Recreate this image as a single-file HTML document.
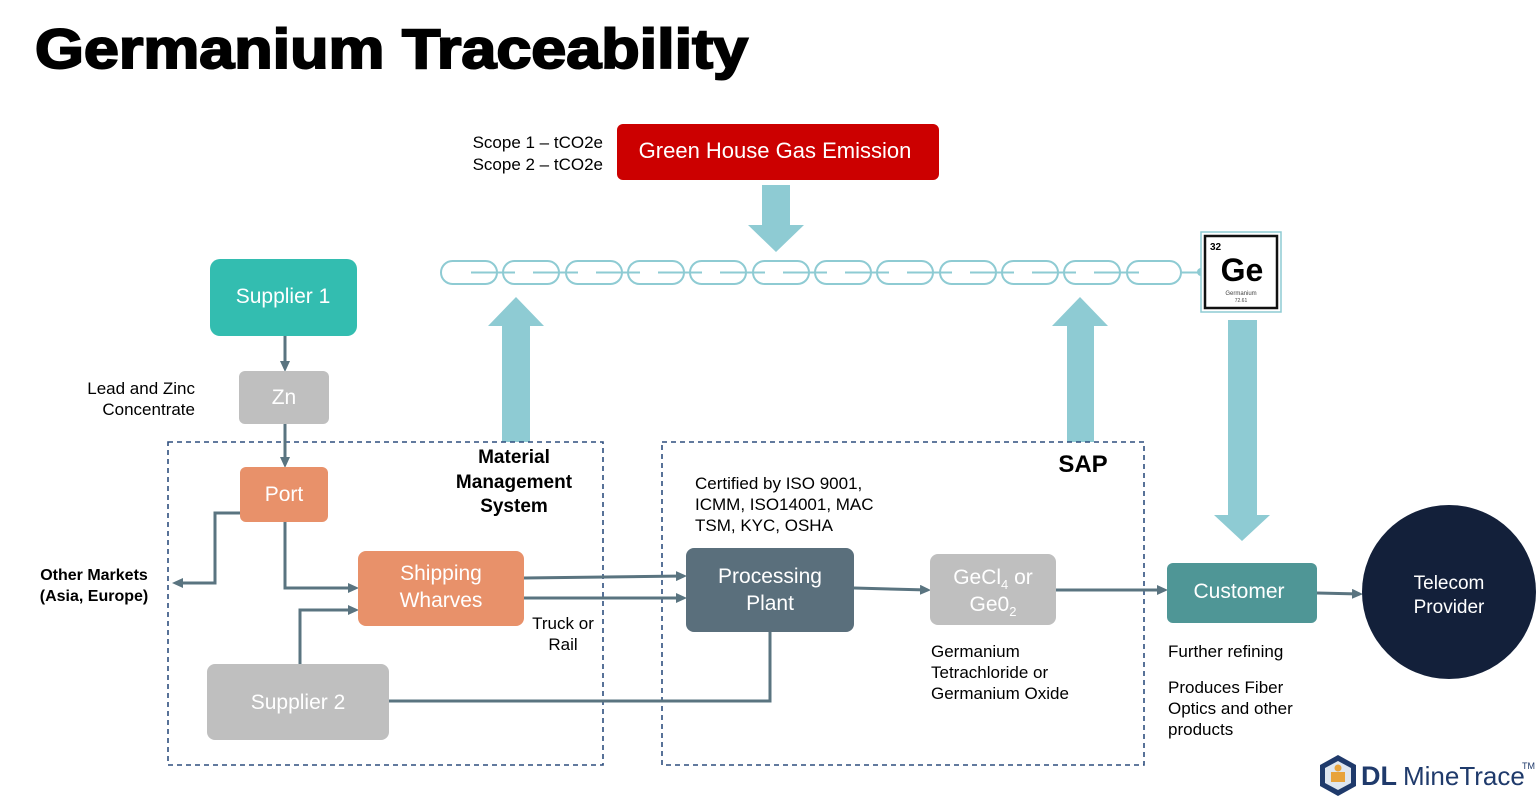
<!DOCTYPE html>
<html><head><meta charset="utf-8"><style>
html,body{margin:0;padding:0;background:#fff;}
svg{display:block;font-family:"Liberation Sans",Arial,sans-serif;}
</style></head><body>
<svg width="1536" height="797" viewBox="0 0 1536 797" xmlns="http://www.w3.org/2000/svg">
<defs>
<marker id="ah" markerWidth="11" markerHeight="10" refX="8" refY="5" orient="auto" markerUnits="userSpaceOnUse">
<path d="M0,0 L11,5 L0,10 z" fill="#5a7480"/></marker>
</defs>
<text x="35" y="68" font-size="56" font-weight="bold" textLength="713" lengthAdjust="spacingAndGlyphs" stroke="#000" stroke-width="2">Germanium Traceability</text>

<!-- GHG -->
<text x="603" y="148" font-size="17" text-anchor="end">Scope 1 – tCO2e</text>
<text x="603" y="170" font-size="17" text-anchor="end">Scope 2 – tCO2e</text>
<rect x="617" y="124" width="322" height="56" rx="6" fill="#cc0000"/>
<text x="775" y="158" font-size="22" fill="#fff" text-anchor="middle">Green House Gas Emission</text>

<!-- big arrows -->
<g fill="#8ecbd3">
<polygon points="762,185 790,185 790,225 804,225 776,252 748,225 762,225"/>
<polygon points="502,442 530,442 530,326 544,326 516,297 488,326 502,326"/>
<polygon points="1067,442 1094,442 1094,326 1108,326 1080,297 1052,326 1067,326"/>
<polygon points="1228,320 1257,320 1257,515 1270,515 1242,541 1214,515 1228,515"/>
</g>

<!-- chain -->
<g fill="none" stroke="#8ecbd3" stroke-width="2">
<rect x="441" y="261" width="56" height="23" rx="11.5"/>
<rect x="503" y="261" width="56" height="23" rx="11.5"/>
<rect x="566" y="261" width="56" height="23" rx="11.5"/>
<rect x="628" y="261" width="56" height="23" rx="11.5"/>
<rect x="690" y="261" width="56" height="23" rx="11.5"/>
<rect x="753" y="261" width="56" height="23" rx="11.5"/>
<rect x="815" y="261" width="56" height="23" rx="11.5"/>
<rect x="877" y="261" width="56" height="23" rx="11.5"/>
<rect x="940" y="261" width="56" height="23" rx="11.5"/>
<rect x="1002" y="261" width="56" height="23" rx="11.5"/>
<rect x="1064" y="261" width="56" height="23" rx="11.5"/>
<rect x="1127" y="261" width="54" height="23" rx="11.5"/>
<path d="M471,272.5 H515 M533,272.5 H578 M596,272.5 H640 M658,272.5 H702 M720,272.5 H765 M783,272.5 H827 M845,272.5 H889 M907,272.5 H952 M970,272.5 H1014 M1032,272.5 H1076 M1094,272.5 H1139 M1181,272.5 H1202"/>
</g>
<circle cx="1201" cy="272" r="4" fill="#8ecbd3"/>
<rect x="1201" y="232" width="80" height="80" fill="#fff" stroke="#8ecbd3" stroke-width="1.5"/>
<rect x="1205" y="236" width="72" height="72" fill="#fff" stroke="#111" stroke-width="2.5"/>
<text x="1210" y="250" font-size="10" font-weight="bold">32</text>
<text x="1242" y="281" font-size="32" font-weight="bold" text-anchor="middle">Ge</text>
<text x="1241" y="295" font-size="6" text-anchor="middle" fill="#444">Germanium</text>
<text x="1241" y="302" font-size="5" text-anchor="middle" fill="#444">72.61</text>

<!-- dashed boxes -->
<g fill="none" stroke="#2f4f7f" stroke-width="1.6" stroke-dasharray="5,4">
<rect x="168" y="442" width="435" height="323"/>
<rect x="662" y="442" width="482" height="323"/>
</g>
<text x="514" y="463" font-size="19" font-weight="bold" text-anchor="middle">Material</text>
<text x="514" y="488" font-size="19" font-weight="bold" text-anchor="middle">Management</text>
<text x="514" y="512" font-size="19" font-weight="bold" text-anchor="middle">System</text>
<text x="1083" y="472" font-size="24" font-weight="bold" text-anchor="middle">SAP</text>

<!-- connectors -->
<g fill="none" stroke="#5a7480" stroke-width="3">
<path d="M285,336 V369" marker-end="url(#ah)"/>
<path d="M285,424 V465" marker-end="url(#ah)"/>
<path d="M240,513 H215 V583 H175" marker-end="url(#ah)"/>
<path d="M285,522 V588 H356" marker-end="url(#ah)"/>
<path d="M300,664 V610 H356" marker-end="url(#ah)"/>
<path d="M524,578 L684,576" marker-end="url(#ah)"/>
<path d="M524,598 L684,598" marker-end="url(#ah)"/>
<path d="M854,588 L928,590" marker-end="url(#ah)"/>
<path d="M1056,590 H1165" marker-end="url(#ah)"/>
<path d="M1317,593 L1360,594" marker-end="url(#ah)"/>
<path d="M389,701 H770 V632"/>
</g>

<!-- nodes -->
<rect x="210" y="259" width="147" height="77" rx="10" fill="#33bdb0"/>
<text x="283" y="303" font-size="21" fill="#fff" text-anchor="middle">Supplier 1</text>
<rect x="239" y="371" width="90" height="53" rx="6" fill="#bfbfbf"/>
<text x="284" y="404" font-size="21" fill="#fff" text-anchor="middle">Zn</text>
<text x="195" y="394" font-size="17" text-anchor="end">Lead and Zinc</text>
<text x="195" y="415" font-size="17" text-anchor="end">Concentrate</text>
<rect x="240" y="467" width="88" height="55" rx="6" fill="#e8916a"/>
<text x="284" y="501" font-size="21" fill="#fff" text-anchor="middle">Port</text>
<text x="94" y="580" font-size="16" font-weight="bold" text-anchor="middle">Other Markets</text>
<text x="94" y="601" font-size="16" font-weight="bold" text-anchor="middle">(Asia, Europe)</text>
<rect x="358" y="551" width="166" height="75" rx="8" fill="#e8916a"/>
<text x="441" y="580" font-size="21" fill="#fff" text-anchor="middle">Shipping</text>
<text x="441" y="607" font-size="21" fill="#fff" text-anchor="middle">Wharves</text>
<text x="563" y="629" font-size="17" text-anchor="middle">Truck or</text>
<text x="563" y="650" font-size="17" text-anchor="middle">Rail</text>
<rect x="207" y="664" width="182" height="76" rx="8" fill="#bfbfbf"/>
<text x="298" y="709" font-size="21" fill="#fff" text-anchor="middle">Supplier 2</text>

<text x="695" y="489" font-size="17">Certified by ISO 9001,</text>
<text x="695" y="510" font-size="17">ICMM, ISO14001, MAC</text>
<text x="695" y="531" font-size="17">TSM, KYC, OSHA</text>
<rect x="686" y="548" width="168" height="84" rx="8" fill="#5a6f7c"/>
<text x="770" y="583" font-size="21" fill="#fff" text-anchor="middle">Processing</text>
<text x="770" y="610" font-size="21" fill="#fff" text-anchor="middle">Plant</text>
<rect x="930" y="554" width="126" height="71" rx="8" fill="#bfbfbf"/>
<text x="993" y="584" font-size="21" fill="#fff" text-anchor="middle">GeCl<tspan font-size="13" dy="5">4</tspan><tspan dy="-5"> or</tspan></text>
<text x="993" y="611" font-size="21" fill="#fff" text-anchor="middle">Ge0<tspan font-size="13" dy="5">2</tspan></text>
<text x="931" y="657" font-size="17">Germanium</text>
<text x="931" y="678" font-size="17">Tetrachloride or</text>
<text x="931" y="699" font-size="17">Germanium Oxide</text>

<rect x="1167" y="563" width="150" height="60" rx="6" fill="#4f9696"/>
<text x="1239" y="598" font-size="21" fill="#fff" text-anchor="middle">Customer</text>
<text x="1168" y="657" font-size="17">Further refining</text>
<text x="1168" y="693" font-size="17">Produces Fiber</text>
<text x="1168" y="714" font-size="17">Optics and other</text>
<text x="1168" y="735" font-size="17">products</text>
<circle cx="1449" cy="592" r="87" fill="#13203a"/>
<text x="1449" y="589" font-size="19" fill="#fff" text-anchor="middle">Telecom</text>
<text x="1449" y="613" font-size="19" fill="#fff" text-anchor="middle">Provider</text>

<!-- logo -->
<polygon points="1338,755 1356,765 1356,786 1338,796 1320,786 1320,765" fill="#1f3a6b"/>
<polygon points="1338,761 1351,768 1351,783 1338,790 1325,783 1325,768" fill="#dfe6ef"/>
<rect x="1331" y="772" width="14" height="10" fill="#e8a33c"/>
<circle cx="1338" cy="768" r="3.5" fill="#e8a33c"/>
<text x="1361" y="785" font-size="27" font-weight="bold" fill="#1f3a6b">DL</text>
<text x="1403" y="785" font-size="26" fill="#1f3a6b">MineTrace</text>
<text x="1522" y="769" font-size="9" fill="#1f3a6b">TM</text>
</svg>
</body></html>
